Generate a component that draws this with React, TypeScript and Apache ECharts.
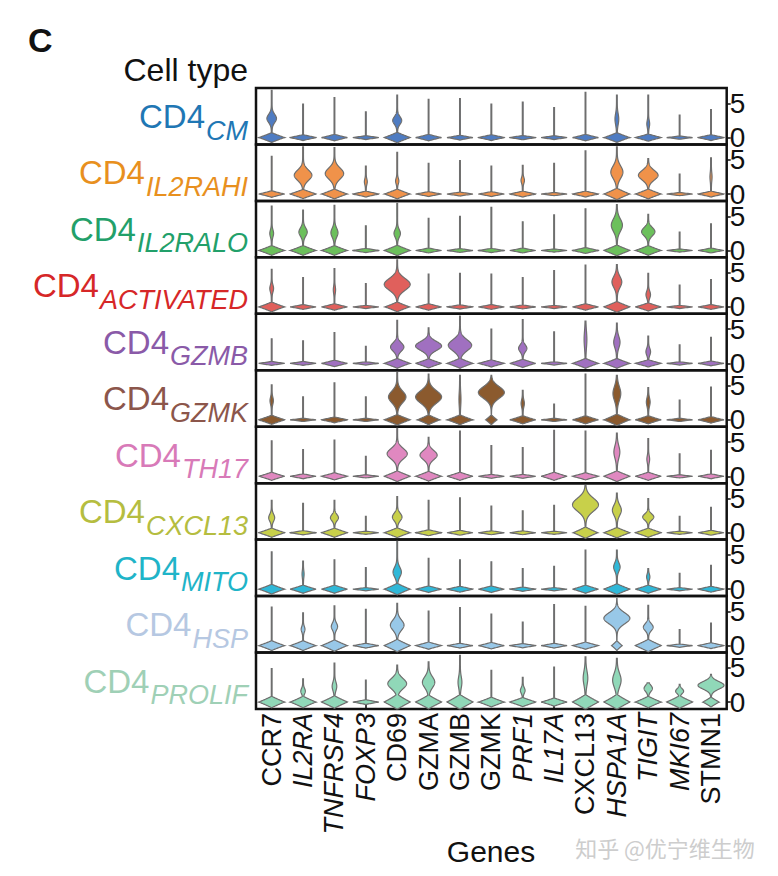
import React, { useEffect, useRef } from "react";
import * as echarts from "echarts";

const GENES = ["CCR7", "IL2RA", "TNFRSF4", "FOXP3", "CD69", "GZMA", "GZMB", "GZMK", "PRF1", "IL17A", "CXCL13", "HSPA1A", "TIGIT", "MKI67", "STMN1"];
const ITALIC_GENES = ["IL2RA", "TNFRSF4", "FOXP3", "PRF1", "IL17A", "HSPA1A", "TIGIT", "MKI67"];
const CELL_TYPES = ["CM", "IL2RAHI", "IL2RALO", "ACTIVATED", "GZMB", "GZMK", "TH17", "CXCL13", "MITO", "HSP", "PROLIF"];
const LABEL_COLORS = ["#1f77b4", "#e8901e", "#22a06a", "#d62728", "#8a5aa8", "#8c564b", "#d87ab8", "#b5bd40", "#1fb4c8", "#b6c8e2", "#9fd0b6"];
const FILL_COLORS = ["#4f7cc2", "#f0924a", "#6cc05c", "#e0605c", "#a070c0", "#8b5a2e", "#e088c0", "#c8d04a", "#30b8d8", "#98c8e8", "#90d8b8"];
const Y_TICKS = [0, 5];

// maximum value (top of each violin) per cell type x gene
const TOPS = [
  [6.9, 4.9, 5.85, 3.75, 6.2, 5.6, 5.7, 4.9, 5.2, 4.4, 6.6, 6.2, 6.2, 3.3, 4.1],
  [5.5, 6.9, 6.8, 4.1, 6.1, 4.5, 4.9, 4.1, 4.2, 4.5, 6.3, 6.9, 5.2, 2.9, 5.3],
  [6.5, 5.9, 6.6, 3.6, 6.9, 4.7, 5.0, 6.3, 4.2, 5.2, 6.1, 6.7, 5.3, 2.7, 3.9],
  [5.5, 4.3, 5.6, 3.4, 6.9, 4.8, 4.9, 4.8, 4.3, 5.3, 6.1, 6.2, 4.9, 3.2, 4.0],
  [3.6, 3.3, 4.5, 2.5, 6.3, 5.2, 6.9, 5.0, 6.4, 4.6, 6.2, 5.9, 4.0, 2.7, 3.8],
  [5.1, 3.35, 5.4, 3.35, 6.9, 6.7, 6.5, 6.5, 4.3, 2.3, 6.7, 6.5, 4.7, 2.9, 4.8],
  [5.2, 3.9, 5.3, 2.9, 7.0, 5.7, 6.6, 4.5, 4.2, 6.7, 6.6, 6.3, 5.5, 3.3, 3.8],
  [4.75, 4.3, 4.75, 2.4, 5.3, 4.75, 5.1, 3.9, 3.2, 4.0, 6.9, 5.8, 5.0, 2.4, 3.7],
  [5.45, 4.1, 4.3, 3.15, 7.0, 4.5, 4.3, 4.0, 3.0, 3.35, 5.7, 5.7, 3.0, 2.3, 3.5],
  [5.65, 4.8, 5.8, 5.3, 6.2, 5.05, 5.55, 4.6, 3.45, 6.0, 5.75, 6.9, 5.9, 2.35, 3.3],
  [4.9, 3.4, 5.7, 3.2, 5.4, 5.9, 6.85, 4.65, 3.6, 5.1, 6.6, 6.4, 2.8, 2.6, 4.05],
];

// vertical spread of the mass at zero
const SPREADS = [
  [0.3, 0.18, 0.2, 0.12, 0.32, 0.2, 0.15, 0.18, 0.13, 0.12, 0.2, 0.3, 0.22, 0.1, 0.18],
  [0.2, 0.28, 0.3, 0.18, 0.3, 0.15, 0.12, 0.15, 0.18, 0.1, 0.18, 0.35, 0.3, 0.1, 0.18],
  [0.3, 0.3, 0.3, 0.13, 0.32, 0.15, 0.12, 0.13, 0.15, 0.1, 0.18, 0.33, 0.3, 0.1, 0.15],
  [0.3, 0.15, 0.2, 0.1, 0.3, 0.2, 0.13, 0.15, 0.12, 0.1, 0.2, 0.33, 0.25, 0.1, 0.15],
  [0.12, 0.12, 0.2, 0.1, 0.3, 0.28, 0.3, 0.22, 0.25, 0.1, 0.3, 0.3, 0.22, 0.1, 0.15],
  [0.28, 0.1, 0.18, 0.1, 0.32, 0.3, 0.3, 0.3, 0.25, 0.1, 0.25, 0.35, 0.25, 0.1, 0.2],
  [0.25, 0.15, 0.22, 0.1, 0.33, 0.3, 0.25, 0.12, 0.12, 0.25, 0.22, 0.33, 0.25, 0.1, 0.15],
  [0.28, 0.13, 0.28, 0.1, 0.3, 0.18, 0.15, 0.12, 0.12, 0.1, 0.35, 0.32, 0.28, 0.1, 0.15],
  [0.3, 0.25, 0.25, 0.1, 0.35, 0.2, 0.18, 0.2, 0.13, 0.1, 0.25, 0.33, 0.25, 0.1, 0.18],
  [0.3, 0.3, 0.35, 0.15, 0.38, 0.22, 0.15, 0.2, 0.13, 0.15, 0.22, 0.3, 0.38, 0.1, 0.18],
  [0.35, 0.35, 0.38, 0.15, 0.45, 0.42, 0.45, 0.3, 0.28, 0.25, 0.45, 0.45, 0.35, 0.38, 0.3],
];

// expressed mode: [row, gene, centre, sd, relative width]
const BUMPS = [
  [0, 0, 2.8, 0.6, 0.35], [0, 4, 2.5, 0.55, 0.32], [0, 11, 2.7, 0.8, 0.12], [0, 12, 2.0, 0.5, 0.08],
  [1, 1, 2.75, 0.75, 0.65], [1, 2, 3.0, 0.8, 0.7], [1, 3, 1.8, 0.4, 0.08], [1, 4, 1.9, 0.4, 0.1], [1, 8, 2.0, 0.4, 0.1], [1, 11, 3.2, 0.9, 0.45], [1, 12, 2.75, 0.7, 0.75], [1, 14, 2.5, 0.6, 0.05],
  [2, 0, 2.5, 0.5, 0.12], [2, 1, 2.7, 0.6, 0.3], [2, 2, 2.6, 0.65, 0.25], [2, 4, 2.5, 0.55, 0.22], [2, 11, 3.7, 0.9, 0.4], [2, 12, 2.75, 0.6, 0.5],
  [3, 0, 2.7, 0.5, 0.12], [3, 2, 2.5, 0.5, 0.06], [3, 4, 3.3, 0.85, 1.05], [3, 11, 3.65, 0.8, 0.35], [3, 12, 1.8, 0.5, 0.15],
  [4, 4, 2.4, 0.6, 0.5], [4, 5, 2.55, 0.65, 1.0], [4, 6, 2.65, 0.8, 0.9], [4, 8, 2.2, 0.5, 0.3], [4, 10, 3.5, 1.2, 0.08], [4, 11, 3.1, 0.8, 0.22], [4, 12, 1.7, 0.5, 0.15],
  [5, 0, 2.8, 0.5, 0.1], [5, 4, 3.35, 0.85, 0.65], [5, 5, 3.35, 0.9, 1.15], [5, 6, 3.0, 1.0, 0.05], [5, 7, 4.0, 0.85, 2.3], [5, 8, 2.4, 0.5, 0.1], [5, 11, 3.85, 1.0, 0.28], [5, 12, 2.6, 0.6, 0.12],
  [6, 4, 3.3, 0.75, 0.75], [6, 5, 3.1, 0.65, 0.65], [6, 11, 3.55, 0.9, 0.2], [6, 12, 2.5, 0.5, 0.08],
  [7, 0, 2.2, 0.5, 0.2], [7, 2, 2.2, 0.45, 0.28], [7, 4, 2.3, 0.55, 0.35], [7, 10, 4.1, 0.95, 1.05], [7, 11, 3.3, 0.75, 0.32], [7, 12, 2.3, 0.45, 0.4],
  [8, 1, 2.2, 0.5, 0.05], [8, 4, 2.5, 0.7, 0.3], [8, 11, 3.25, 0.6, 0.22], [8, 12, 1.8, 0.4, 0.1],
  [9, 1, 2.4, 0.4, 0.12], [9, 2, 2.8, 0.5, 0.22], [9, 4, 3.0, 0.75, 0.5], [9, 11, 4.0, 0.8, 2.5], [9, 12, 2.7, 0.5, 0.35],
  [10, 1, 1.6, 0.4, 0.15], [10, 2, 2.3, 0.6, 0.15], [10, 4, 2.7, 0.75, 0.7], [10, 5, 2.9, 0.8, 0.45], [10, 6, 2.9, 0.8, 0.12], [10, 8, 1.7, 0.4, 0.15], [10, 10, 3.5, 1.0, 0.15], [10, 11, 3.2, 1.0, 0.3], [10, 12, 2.0, 0.45, 0.3], [10, 13, 1.6, 0.35, 0.28], [10, 14, 2.45, 0.55, 1.6],
];

const FONT = "Liberation Sans";
const ROW_TOP = 88;
const ROW_H = 56.45;
const GRID_LEFT = 256;
const GRID_W = 470.7;
const LABEL_RIGHT = 248;
const GENE_FONT = 27;
const TICK_FONT = 28;

function measure(text: string, font: string): number {
  const c = document.createElement("canvas");
  const ctx = c.getContext("2d");
  if (!ctx) return text.length * 15;
  ctx.font = font;
  return ctx.measureText(text).width;
}

function makeRender(fill: string) {
  return (params: any, api: any) => {
    const g = api.value(0);
    const top = api.value(1);
    const s = api.value(2);
    const mu = api.value(3);
    const sd = api.value(4);
    const w = api.value(5);
    const band = api.size([1, 0])[0];
    const maxHalf = band * 0.414;
    const L = 2.4 * s;
    const y0 = Math.max(-1, -L);
    const ys: number[] = [];
    for (let y = y0; y < top; y += 0.03) ys.push(y);
    ys.push(top);
    const f = ys.map(
      (y) =>
        Math.max(0, 1 - Math.abs(y) / L) ** 1.1 +
        (w > 0 ? w * Math.exp(-0.5 * ((y - mu) / sd) ** 2) : 0) +
        (y > 0 ? 0.03 : 0)
    );
    const M = Math.max(...f);
    const cx = api.coord([g, 0])[0];
    const left: number[][] = [];
    const right: number[][] = [];
    ys.forEach((y, i) => {
      const py = api.coord([g, y])[1];
      const h = (f[i] / M) * maxHalf;
      left.push([cx - h, py]);
      right.push([cx + h, py]);
    });
    const points = left.concat(right.reverse());
    return {
      type: "polygon",
      shape: { points },
      style: { fill, stroke: "#6e6e6e", lineWidth: 1.2 },
    };
  };
}

function txt(x: number, y: number, text: string, opts: any) {
  const align = opts.align || "left";
  const { align: _a, rotation, ...rest } = opts;
  return {
    type: "text",
    x,
    y,
    rotation: rotation || 0,
    style: {
      text,
      fontFamily: FONT,
      fill: "#111",
      align,
      textAlign: align,
      verticalAlign: "middle",
      textVerticalAlign: "middle",
      ...rest,
    },
  };
}

export default function App() {
  const ref = useRef<HTMLDivElement>(null);
  useEffect(() => {
    if (!ref.current) return;
    const chart = echarts.init(ref.current, undefined, { renderer: "svg" });
    const n = CELL_TYPES.length;
    const grids: any[] = [];
    const xAxes: any[] = [];
    const yAxes: any[] = [];
    const series: any[] = [];
    for (let r = 0; r < n; r++) {
      const top = ROW_TOP + r * ROW_H;
      grids.push({
        left: GRID_LEFT,
        top,
        width: GRID_W,
        height: ROW_H,
        show: true,
        borderColor: "#111",
        borderWidth: 2.5,
        backgroundColor: "transparent",
      });
      const last = r === n - 1;
      xAxes.push({
        gridIndex: r,
        type: "category",
        position: "bottom",
        data: GENES,
        axisLine: { show: false },
        axisTick: { show: last, alignWithLabel: true, length: 8, lineStyle: { color: "#111", width: 1.6 } },
        axisLabel: { show: false },
        splitLine: { show: false },
      });
      yAxes.push({
        gridIndex: r,
        type: "value",
        position: "right",
        min: -1,
        max: 7.25,
        splitLine: { show: false },
        axisLine: { show: false },
        axisTick: { show: true, customValues: Y_TICKS, length: 4, lineStyle: { color: "#111", width: 1.5 } },
        axisLabel: { show: false },
      });
      const data = GENES.map((_, g) => {
        const b = BUMPS.find((e) => e[0] === r && e[1] === g);
        return [g, TOPS[r][g], SPREADS[r][g], b ? b[2] : 0, b ? b[3] : 1, b ? b[4] : 0];
      });
      series.push({
        type: "custom",
        xAxisIndex: r,
        yAxisIndex: r,
        encode: { x: 0, y: 1 },
        renderItem: makeRender(FILL_COLORS[r]),
        data,
      });
    }
    chart.setOption({
      animation: false,
      backgroundColor: "#fff",
      grid: grids,
      xAxis: xAxes,
      yAxis: yAxes,
      series,
    });

    // texts placed through the chart's own axes
    const graphics: any[] = [];
    const axisRight = chart.convertToPixel({ xAxisIndex: 0 }, GENES.length - 1) + (chart.convertToPixel({ xAxisIndex: 0 }, 1) - chart.convertToPixel({ xAxisIndex: 0 }, 0)) / 2;
    for (let r = 0; r < n; r++) {
      Y_TICKS.forEach((v) => {
        const py = chart.convertToPixel({ yAxisIndex: r }, v);
        graphics.push(txt(axisRight + 3, py, String(v), { fontSize: TICK_FONT }));
      });
      const top = chart.convertToPixel({ yAxisIndex: r }, 7.25);
      const subFont = `italic 27px "${FONT}"`;
      const subW = measure(CELL_TYPES[r], subFont);
      graphics.push(txt(LABEL_RIGHT, top + 42.5, CELL_TYPES[r], { align: "right", fontSize: 27, fontStyle: "italic", fill: LABEL_COLORS[r] }));
      graphics.push(txt(LABEL_RIGHT - subW - 1, top + 28.5, "CD4", { align: "right", fontSize: 33, fill: LABEL_COLORS[r] }));
    }
    const bottom = chart.convertToPixel({ yAxisIndex: n - 1 }, -1);
    GENES.forEach((g, i) => {
      const px = chart.convertToPixel({ xAxisIndex: n - 1 }, i);
      graphics.push(
        txt(px, bottom + 4, g, {
          align: "right",
          rotation: Math.PI / 2,
          fontSize: GENE_FONT,
          fontStyle: ITALIC_GENES.includes(g) ? "italic" : "normal",
        })
      );
    });
    graphics.push(
      txt(28, 40, "C", { fontSize: 34, fontWeight: "bold" }),
      txt(LABEL_RIGHT, 69.5, "Cell type", { align: "right", fontSize: 32 }),
      txt(491, 851.5, "Genes", { align: "center", fontSize: 30 }),
      txt(665, 847, "知乎 @优宁维生物", { align: "center", fontSize: 22, fontFamily: "Noto Sans CJK SC", fill: "#cdcdcd" })
    );
    chart.setOption({ graphic: graphics });
    return () => chart.dispose();
  }, []);
  return <div ref={ref} style={{ position: "absolute", left: 0, top: 0, width: 778, height: 876 }} />;
}
